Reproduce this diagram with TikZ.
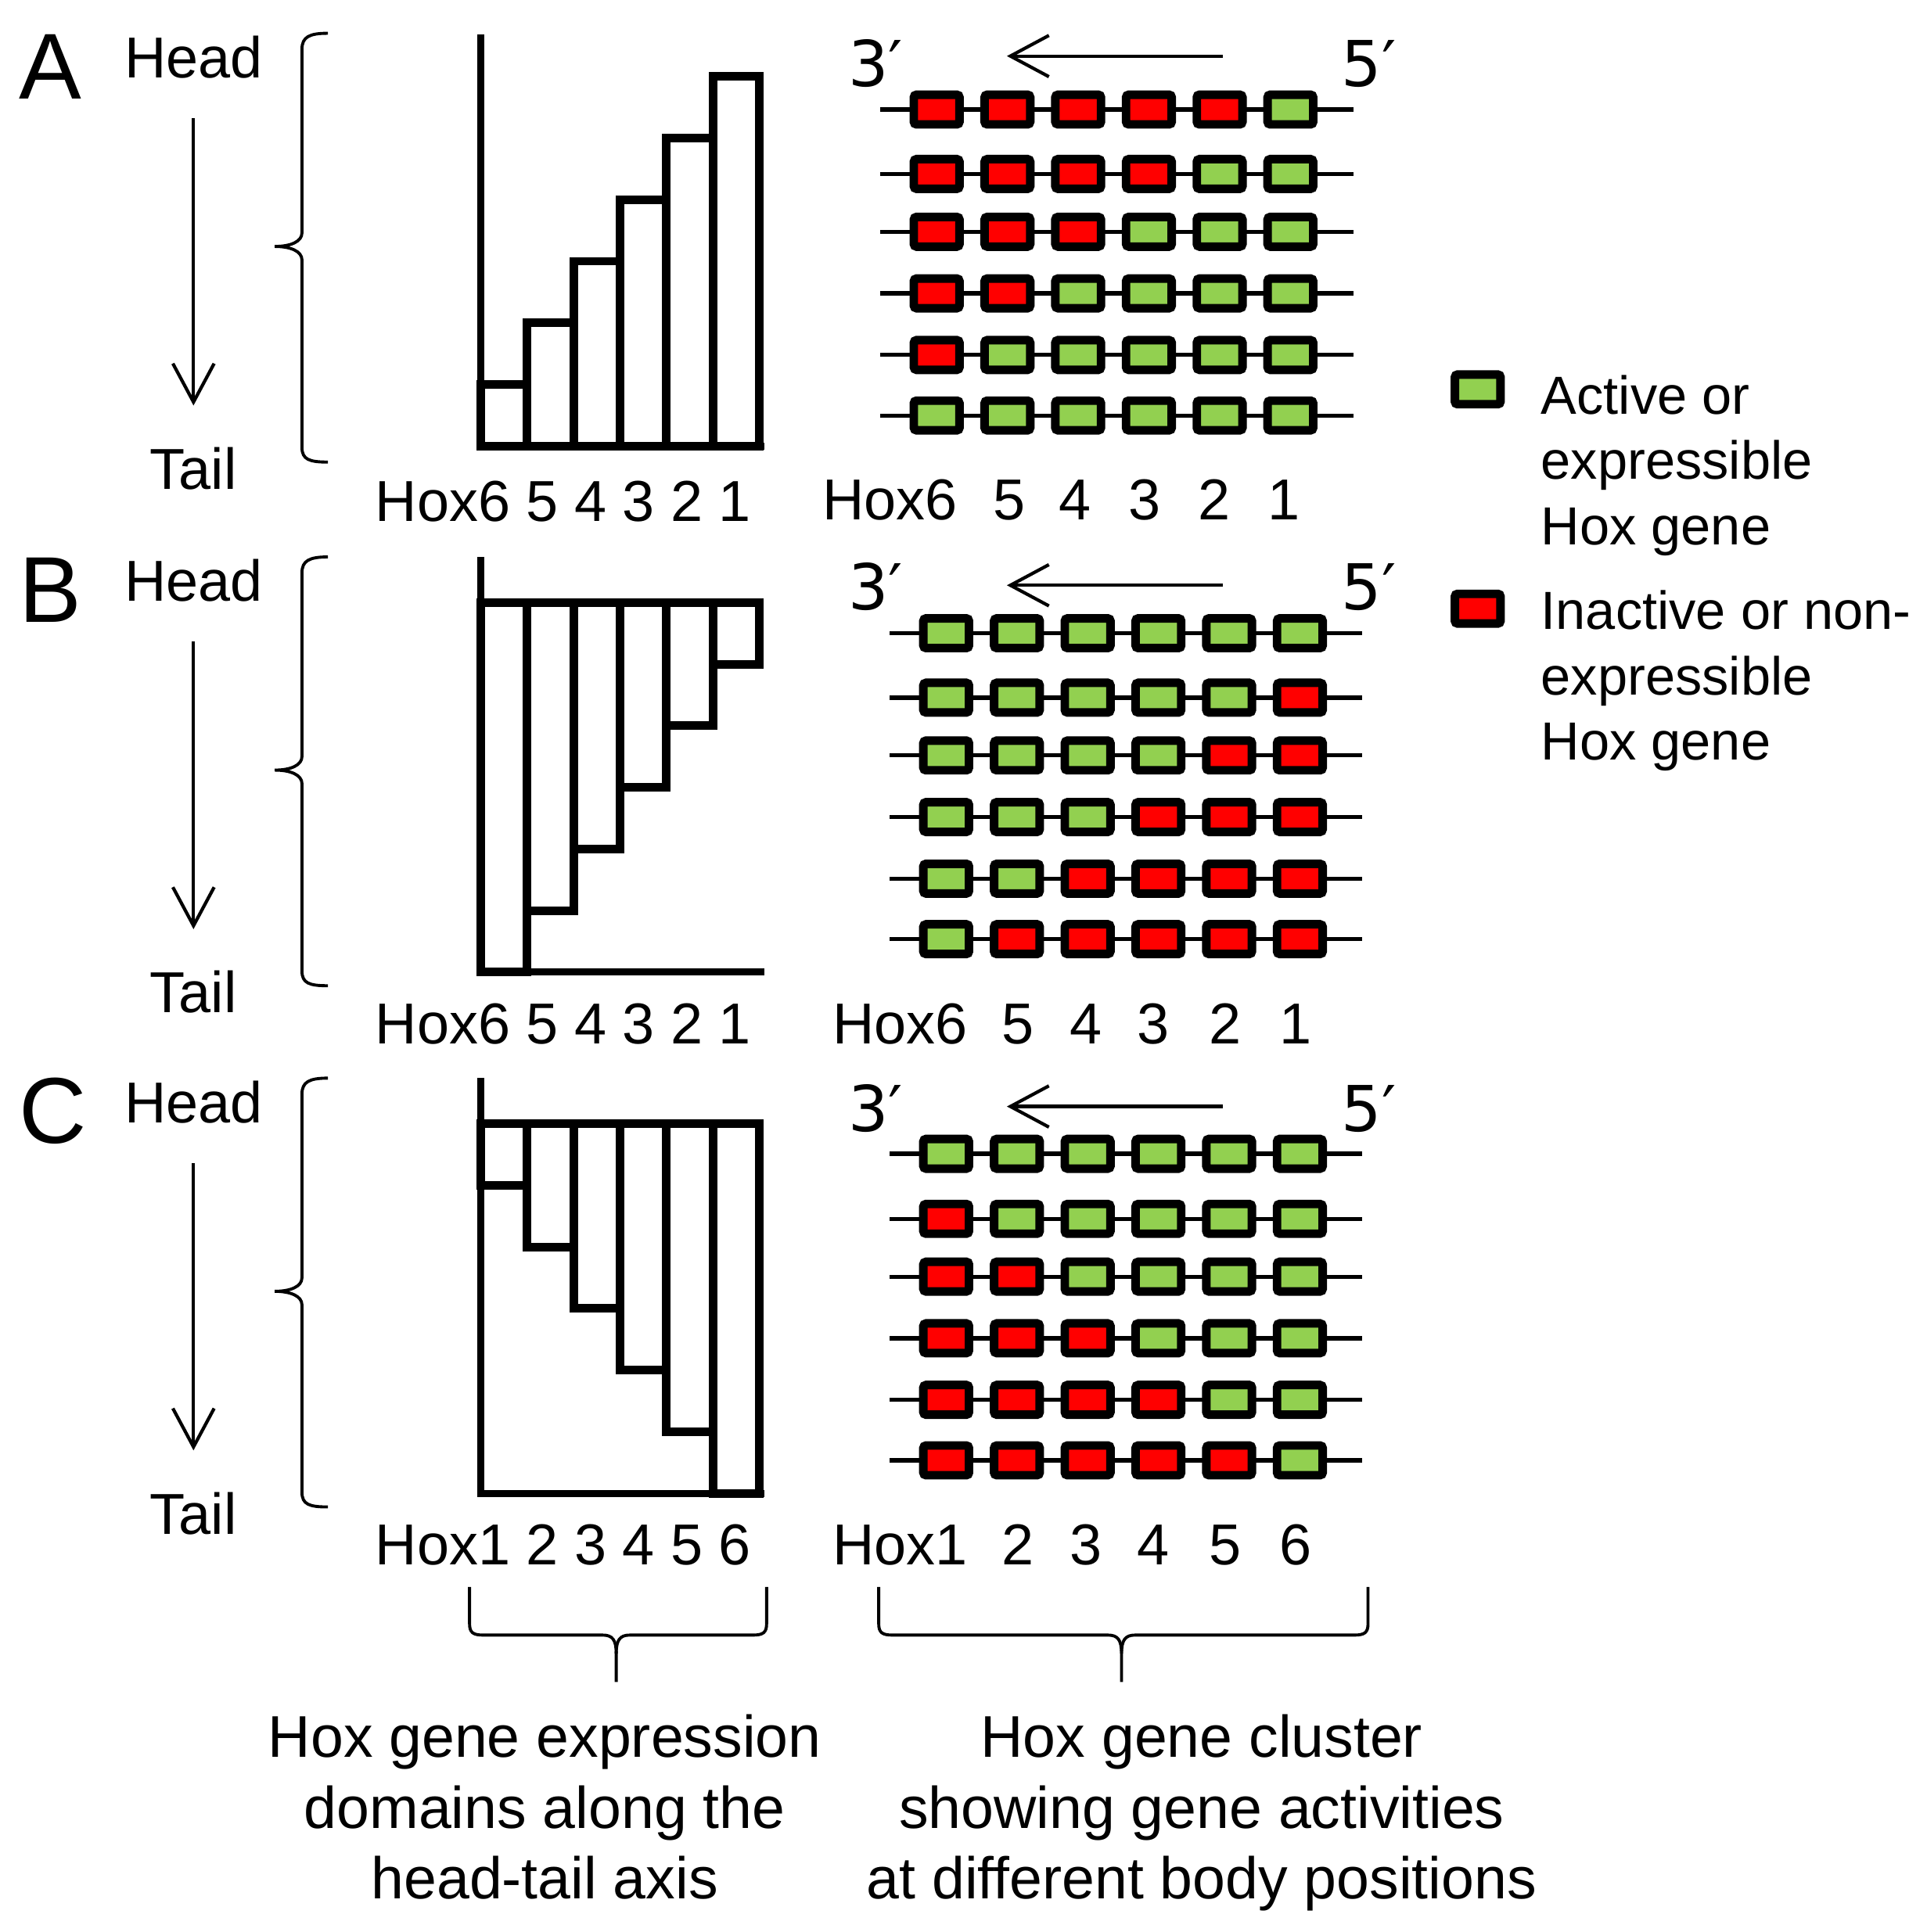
\documentclass[tikz,border=0pt]{standalone}
\usepackage{tikz}
\usetikzlibrary{arrows.meta, positioning}
\usepackage{xcolor}
\usepackage{fontspec}
\setmainfont{Liberation Sans}
\newfontfamily\primefont{DejaVu Sans}
\definecolor{geneon}{HTML}{92D050}
\definecolor{geneoff}{HTML}{FF0000}

\begin{document}
\begin{tikzpicture}[x=0.015752cm, y=-0.015752cm]
    \tikzset{Gene/.style={rectangle, draw=black, line width=3.1pt, rounded corners=1pt, minimum width=16.6pt, minimum height=10.8pt, inner sep=0pt}}
    \tikzset{On/.style={Gene, fill=geneon}}
    \tikzset{Off/.style={Gene, fill=geneoff}}
    \tikzset{Label/.style={inner sep=0pt, anchor=base, font=\fontsize{21}{25}\selectfont}}
    \tikzset{Panel/.style={inner sep=0pt, anchor=base west, font=\fontsize{34}{40}\selectfont}}
    \tikzset{EndMark/.style={inner sep=0pt, anchor=base west, font=\primefont\fontsize{23}{28}\selectfont}}
    \tikzset{Key/.style={inner sep=0pt, anchor=north west, align=left, font=\fontsize{19.5}{23.75}\selectfont}}
    \tikzset{Caption/.style={inner sep=0pt, anchor=north, align=center, font=\fontsize{21.4}{25.8}\selectfont}}
    \tikzset{Strand/.style={line width=1.5pt}}
    \tikzset{Bar/.style={line width=3.1pt}}
    \tikzset{Axis/.style={line width=2.6pt}}
    \tikzset{Brace/.style={line width=1.1pt}}
    \tikzset{Arrow/.style={line width=1.2pt, -{Straight Barb[length=14pt, width=15pt]}}}

    \useasboundingbox (0,0) rectangle (1563,1568);

    % panel letters, head-tail axis, brackets, 3'/5' ends
    \foreach \p/\oy/\ay in {A/0/45.5, B/425/475, C/848/898} {
        \node[Panel](Let\p) at (15,80+\oy) {\p};
        \node[Label](Head\p) at (157,63+\oy) {Head};
        \node[Label](Tail\p) at (157,397+\oy) {Tail};
        \draw[Arrow, shorten <=14.3pt, shorten >=15pt] (Head\p) -- (Tail\p);
        \draw[Brace] (266,27+\oy) .. controls (251,27+\oy) and (245,30+\oy) .. (245,40+\oy)
            -- (245,189+\oy) .. controls (245,196+\oy) and (236,200+\oy) .. (223,200+\oy)
            .. controls (236,200+\oy) and (245,204+\oy) .. (245,211+\oy)
            -- (245,363+\oy) .. controls (245,373+\oy) and (251,375+\oy) .. (266,375+\oy);
        \node[EndMark](Three\p) at (688,70+\oy) {3′};
        \node[EndMark](Five\p) at (1088,70+\oy) {5′};
        \coordinate (Dir\p-s) at (992,\ay);
        \coordinate (Dir\p-e) at (817,\ay);
        \draw[Arrow] (Dir\p-s) -- (Dir\p-e);
    }

    % expression domains
    \draw[Axis] (390,28) -- (390,362) -- (620,362);
    \foreach \i in {1,...,6}
        \draw[Bar] ({390+37.7*(\i-1)},362) rectangle ({390+37.7*\i},{362-50*\i});
    \draw[Axis] (390,452) -- (390,789) -- (620,789);
    \foreach \i in {1,...,6}
        \draw[Bar] ({390+37.7*(\i-1)},489) rectangle ({390+37.7*\i},{789-50*(\i-1)});
    \draw[Axis] (390,875) -- (390,1212) -- (620,1212);
    \foreach \i in {1,...,6}
        \draw[Bar] ({390+37.7*(\i-1)},912) rectangle ({390+37.7*\i},{912+50*\i});

    \node[Label](HoxA) at (457,423) {Hox6 5 4 3 2 1};
    \node[Label](HoxB) at (457,847) {Hox6 5 4 3 2 1};
    \node[Label](HoxC) at (457,1270) {Hox1 2 3 4 5 6};

    % gene clusters
    \foreach \row/\yy in {1/88.9, 2/141.2, 3/188.1, 4/238.1, 5/288.1, 6/337.2} {
        \coordinate (A\row-l) at (714,\yy);
        \coordinate (A\row-r) at (1098,\yy);
        \draw[Strand] (A\row-l) -- (A\row-r);
        \foreach \gene in {1,...,6} {
            \ifnum\gene>\numexpr6-\row\relax \def\genestyle{On}\else \def\genestyle{Off}\fi
            \node[\genestyle](A\row-\gene) at ({760+57.4*(\gene-1)},\yy) {};
        }
    }
    \foreach \row/\yy in {1/513.9, 2/566.2, 3/613.1, 4/663.1, 5/713.1, 6/762.2} {
        \coordinate (B\row-l) at (722,\yy);
        \coordinate (B\row-r) at (1105,\yy);
        \draw[Strand] (B\row-l) -- (B\row-r);
        \foreach \gene in {1,...,6} {
            \ifnum\gene<\numexpr8-\row\relax \def\genestyle{On}\else \def\genestyle{Off}\fi
            \node[\genestyle](B\row-\gene) at ({767.7+57.4*(\gene-1)},\yy) {};
        }
    }
    \foreach \row/\yy in {1/936.4, 2/989.2, 3/1036.1, 4/1086.1, 5/1136.1, 6/1185.2} {
        \coordinate (C\row-l) at (722,\yy);
        \coordinate (C\row-r) at (1105,\yy);
        \draw[Strand] (C\row-l) -- (C\row-r);
        \foreach \gene in {1,...,6} {
            \ifnum\gene<\row \def\genestyle{Off}\else \def\genestyle{On}\fi
            \node[\genestyle](C\row-\gene) at ({767.7+57.4*(\gene-1)},\yy) {};
        }
    }

    \node[Label, anchor=base west](GA6) at (667,422) {Hox6};
    \foreach \lbl/\xx in {5/819, 4/872, 3/929, 2/985, 1/1042}
        \node[Label](GA\lbl) at (\xx,422) {\lbl};
    \node[Label, anchor=base west](GB6) at (675,847) {Hox6};
    \foreach \lbl/\xx in {5/826, 4/881, 3/936, 2/994, 1/1051}
        \node[Label](GB\lbl) at (\xx,847) {\lbl};
    \node[Label, anchor=base west](GC1) at (675,1270) {Hox1};
    \foreach \lbl/\xx in {2/826, 3/881, 4/936, 5/994, 6/1051}
        \node[Label](GC\lbl) at (\xx,1270) {\lbl};

    % legend
    \node[On](KeyOn) at (1199,316) {};
    \node[Off](KeyOff) at (1199,494) {};
    \node[Key](KeyOnText) at (1250,304) {Active or\\expressible\\Hox gene};
    \node[Key](KeyOffText) at (1250,479) {Inactive or non-\\expressible\\Hox gene};

    % bottom braces and captions
    \draw[Brace] (381,1288) -- (381,1318) .. controls (381,1325) and (384,1327) .. (392,1327)
        -- (489,1327) .. controls (497,1327) and (500,1331) .. (500,1342) -- (500,1365);
    \draw[Brace] (500,1342) .. controls (500,1331) and (503,1327) .. (511,1327)
        -- (611,1327) .. controls (619,1327) and (622,1325) .. (622,1318) -- (622,1288);
    \draw[Brace] (713,1288) -- (713,1318) .. controls (713,1325) and (716,1327) .. (724,1327)
        -- (899,1327) .. controls (907,1327) and (910,1331) .. (910,1342) -- (910,1365);
    \draw[Brace] (910,1342) .. controls (910,1331) and (913,1327) .. (921,1327)
        -- (1099,1327) .. controls (1107,1327) and (1110,1325) .. (1110,1318) -- (1110,1288);

    \node[Caption](DomainText) at (442,1391) {Hox gene expression\\domains along the\\head-tail axis};
    \node[Caption](ClusterText) at (975,1391) {Hox gene cluster\\showing gene activities\\at different body positions};
\end{tikzpicture}
\end{document}
